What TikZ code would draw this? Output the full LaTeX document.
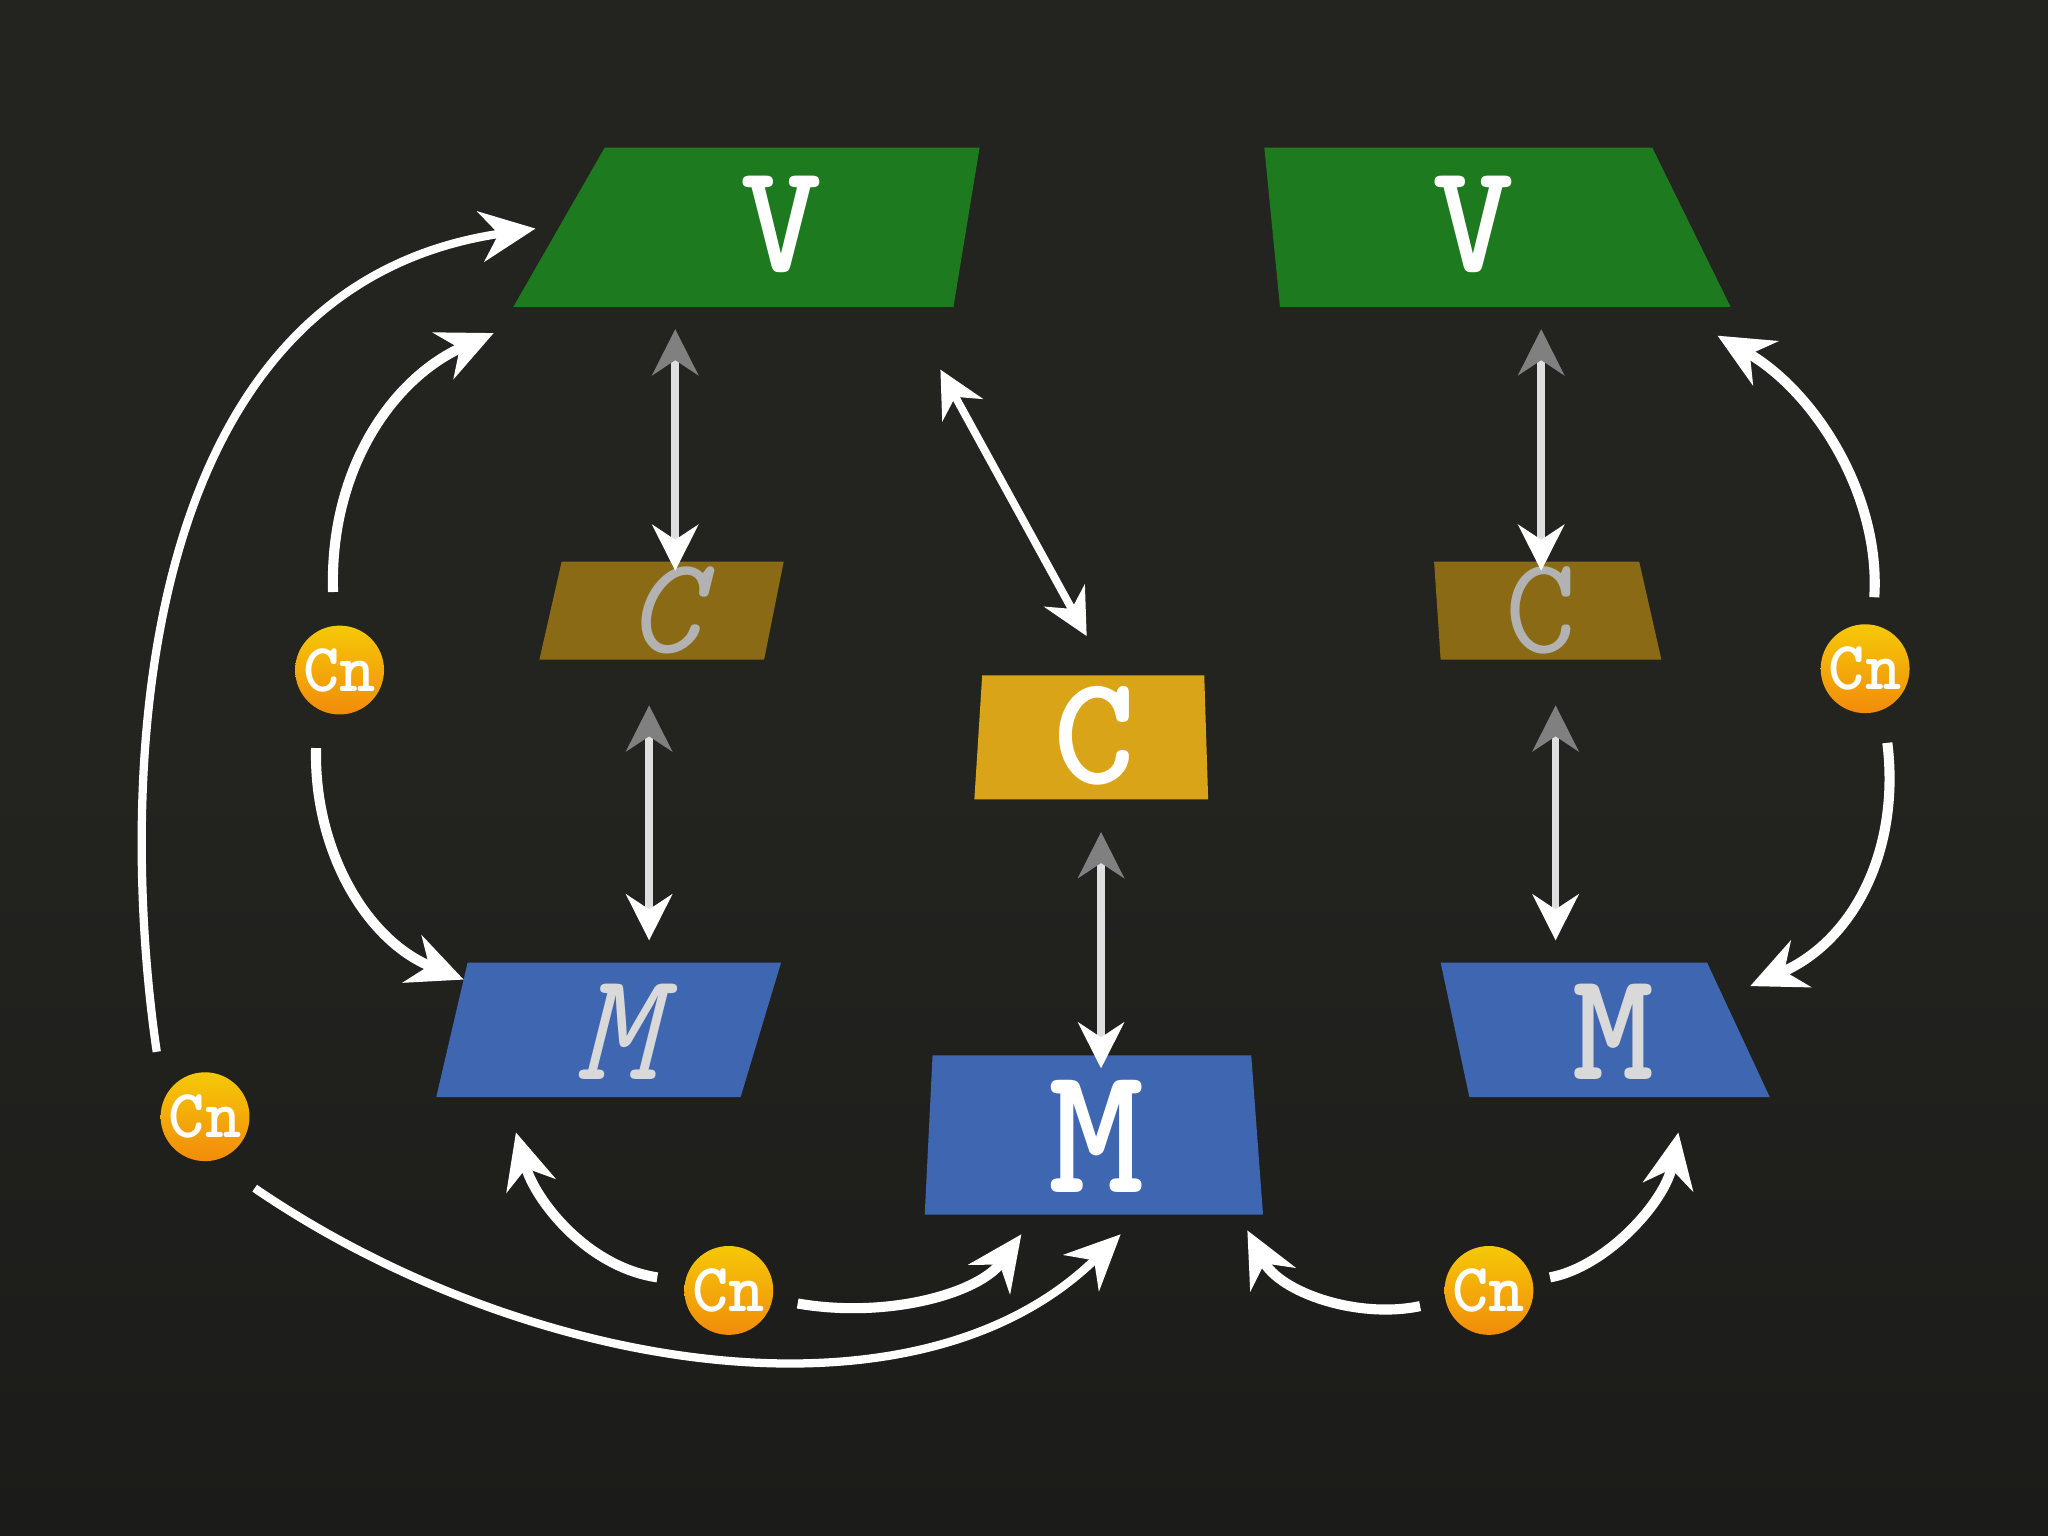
\documentclass[tikz,border=0pt]{standalone}
\usetikzlibrary{arrows.meta}
\definecolor{bgtop}{HTML}{232420}
\definecolor{bgbot}{HTML}{1B1B19}
\definecolor{vgreen}{HTML}{1E7A1E}
\definecolor{cdark}{HTML}{8A6A14}
\definecolor{cgold}{HTML}{D9A418}
\definecolor{mblue}{HTML}{3F66B0}
\definecolor{cnorange}{HTML}{EFA40C}
\tikzset{
  lab/.style={font=\ttfamily\bfseries\fontsize{34}{34}\selectfont},
  cn/.style={circle,minimum size=0.68cm,inner sep=0pt,top color=cnorange!60!yellow,bottom color=cnorange!85!red,
    text=white,font=\ttfamily\bfseries\fontsize{15}{15}\selectfont},
  link/.style={{Stealth[length=10pt,width=10pt]}-{Stealth[length=10pt,width=10pt]},line width=1.7pt,draw=white},
  vlink/.style={link,draw=gray!25!white,{Stealth[length=10pt,width=10pt,gray]}-{Stealth[length=10pt,width=10pt,white]}},
  cnarc/.style={-{Stealth[length=12pt,width=11pt]},line width=2.2pt,draw=white}
}
\begin{document}
\begin{tikzpicture}[x=0.01cm,y=-0.01cm]
\shade[top color=bgtop,bottom color=bgbot,middle color=bgtop] (0,0) rectangle (1568,1176);
\useasboundingbox (0,0) rectangle (1568,1176);
% boxes
\fill[vgreen] (463,113) -- (750,113) -- (730,235) -- (393,235) -- cycle;
\fill[vgreen] (968,113) -- (1265,113) -- (1325,235) -- (980,235) -- cycle;
\fill[cdark] (430,430) -- (600,430) -- (585,505) -- (413,505) -- cycle;
\fill[cgold] (752,517) -- (922,517) -- (925,612) -- (746,612) -- cycle;
\fill[cdark] (1098,430) -- (1255,430) -- (1272,505) -- (1103,505) -- cycle;
\fill[mblue] (358,737) -- (598,737) -- (567,840) -- (334,840) -- cycle;
\fill[mblue] (714,808) -- (958,808) -- (967,930) -- (708,930) -- cycle;
\fill[mblue] (1103,737) -- (1307,737) -- (1355,840) -- (1125,840) -- cycle;
% labels
\node[lab,text=white] (vl) at (598,172) {V};
\node[lab,text=white] (vr) at (1128,172) {V};
\node[lab,text=gray!60!white,font=\ttfamily\itshape\fontsize{30}{30}\selectfont] (cl) at (508,467) {C};
\node[lab,text=white] (cc) at (838,563) {C};
\node[lab,text=gray!60!white,font=\ttfamily\fontsize{30}{30}\selectfont] (cr) at (1180,467) {C};
\node[lab,text=gray!30!white,font=\ttfamily\itshape\fontsize{34}{34}\selectfont] (ml) at (472,790) {M};
\node[lab,text=white,font=\ttfamily\bfseries\fontsize{40}{40}\selectfont] (mc) at (840,870) {M};
\node[lab,text=gray!30!white] (mr) at (1235,790) {M};
% link ends
\coordinate (vl-s) at (517,252); \coordinate (cl-n) at (517,437);
\coordinate (cl-s) at (497,540); \coordinate (ml-n) at (497,720);
\coordinate (vl-e) at (720,283); \coordinate (cc-n) at (832,487);
\coordinate (cc-s) at (843,637); \coordinate (mc-n) at (843,818);
\coordinate (vr-s) at (1180,252); \coordinate (cr-n) at (1180,437);
\coordinate (cr-s) at (1191,540); \coordinate (mr-n) at (1191,720);
% Cn badges
\node[cn] (n1) at (260,513) {Cn};
\node[cn] (n2) at (1428,512) {Cn};
\node[cn] (n3) at (157,855) {Cn};
\node[cn] (n4) at (558,988) {Cn};
\node[cn] (n5) at (1140,988) {Cn};
% straight links
\draw[vlink] (vl-s) -- (cl-n);
\draw[vlink] (cl-s) -- (ml-n);
\draw[link] (vl-e) -- (cc-n);
\draw[vlink] (cc-s) -- (mc-n);
\draw[vlink] (vr-s) -- (cr-n);
\draw[vlink] (cr-s) -- (mr-n);
% curved links
\draw[cnarc] (n1.north) ++(-5,-25) .. controls (252,360) and (300,290) .. (378,255);
\draw[cnarc] (n1.south) ++(-18,25) .. controls (240,650) and (280,720) .. (355,750);
\draw[cnarc,line width=1.8pt] (n3.north) ++(-37,-15) .. controls (90,600) and (100,220) .. (410,175);
\draw[cnarc,line width=1.8pt] (n3.south) ++(38,20) .. controls (400,1050) and (700,1100) .. (858,945);
\draw[cnarc] (n4.west) ++(-20,-10) .. controls (450,970) and (410,920) .. (395,867);
\draw[cnarc] (n4.east) ++(18,10) .. controls (680,1010) and (750,990) .. (782,945);
\draw[cnarc] (n5.west) ++(-18,12) .. controls (1040,1010) and (980,990) .. (955,942);
\draw[cnarc] (n5.east) ++(12,-10) .. controls (1230,970) and (1275,920) .. (1285,867);
\draw[cnarc] (n2.north) ++(7,-20) .. controls (1440,380) and (1390,300) .. (1315,257);
\draw[cnarc] (n2.south) ++(17,22) .. controls (1455,650) and (1420,720) .. (1340,755);
\end{tikzpicture}
\end{document}
